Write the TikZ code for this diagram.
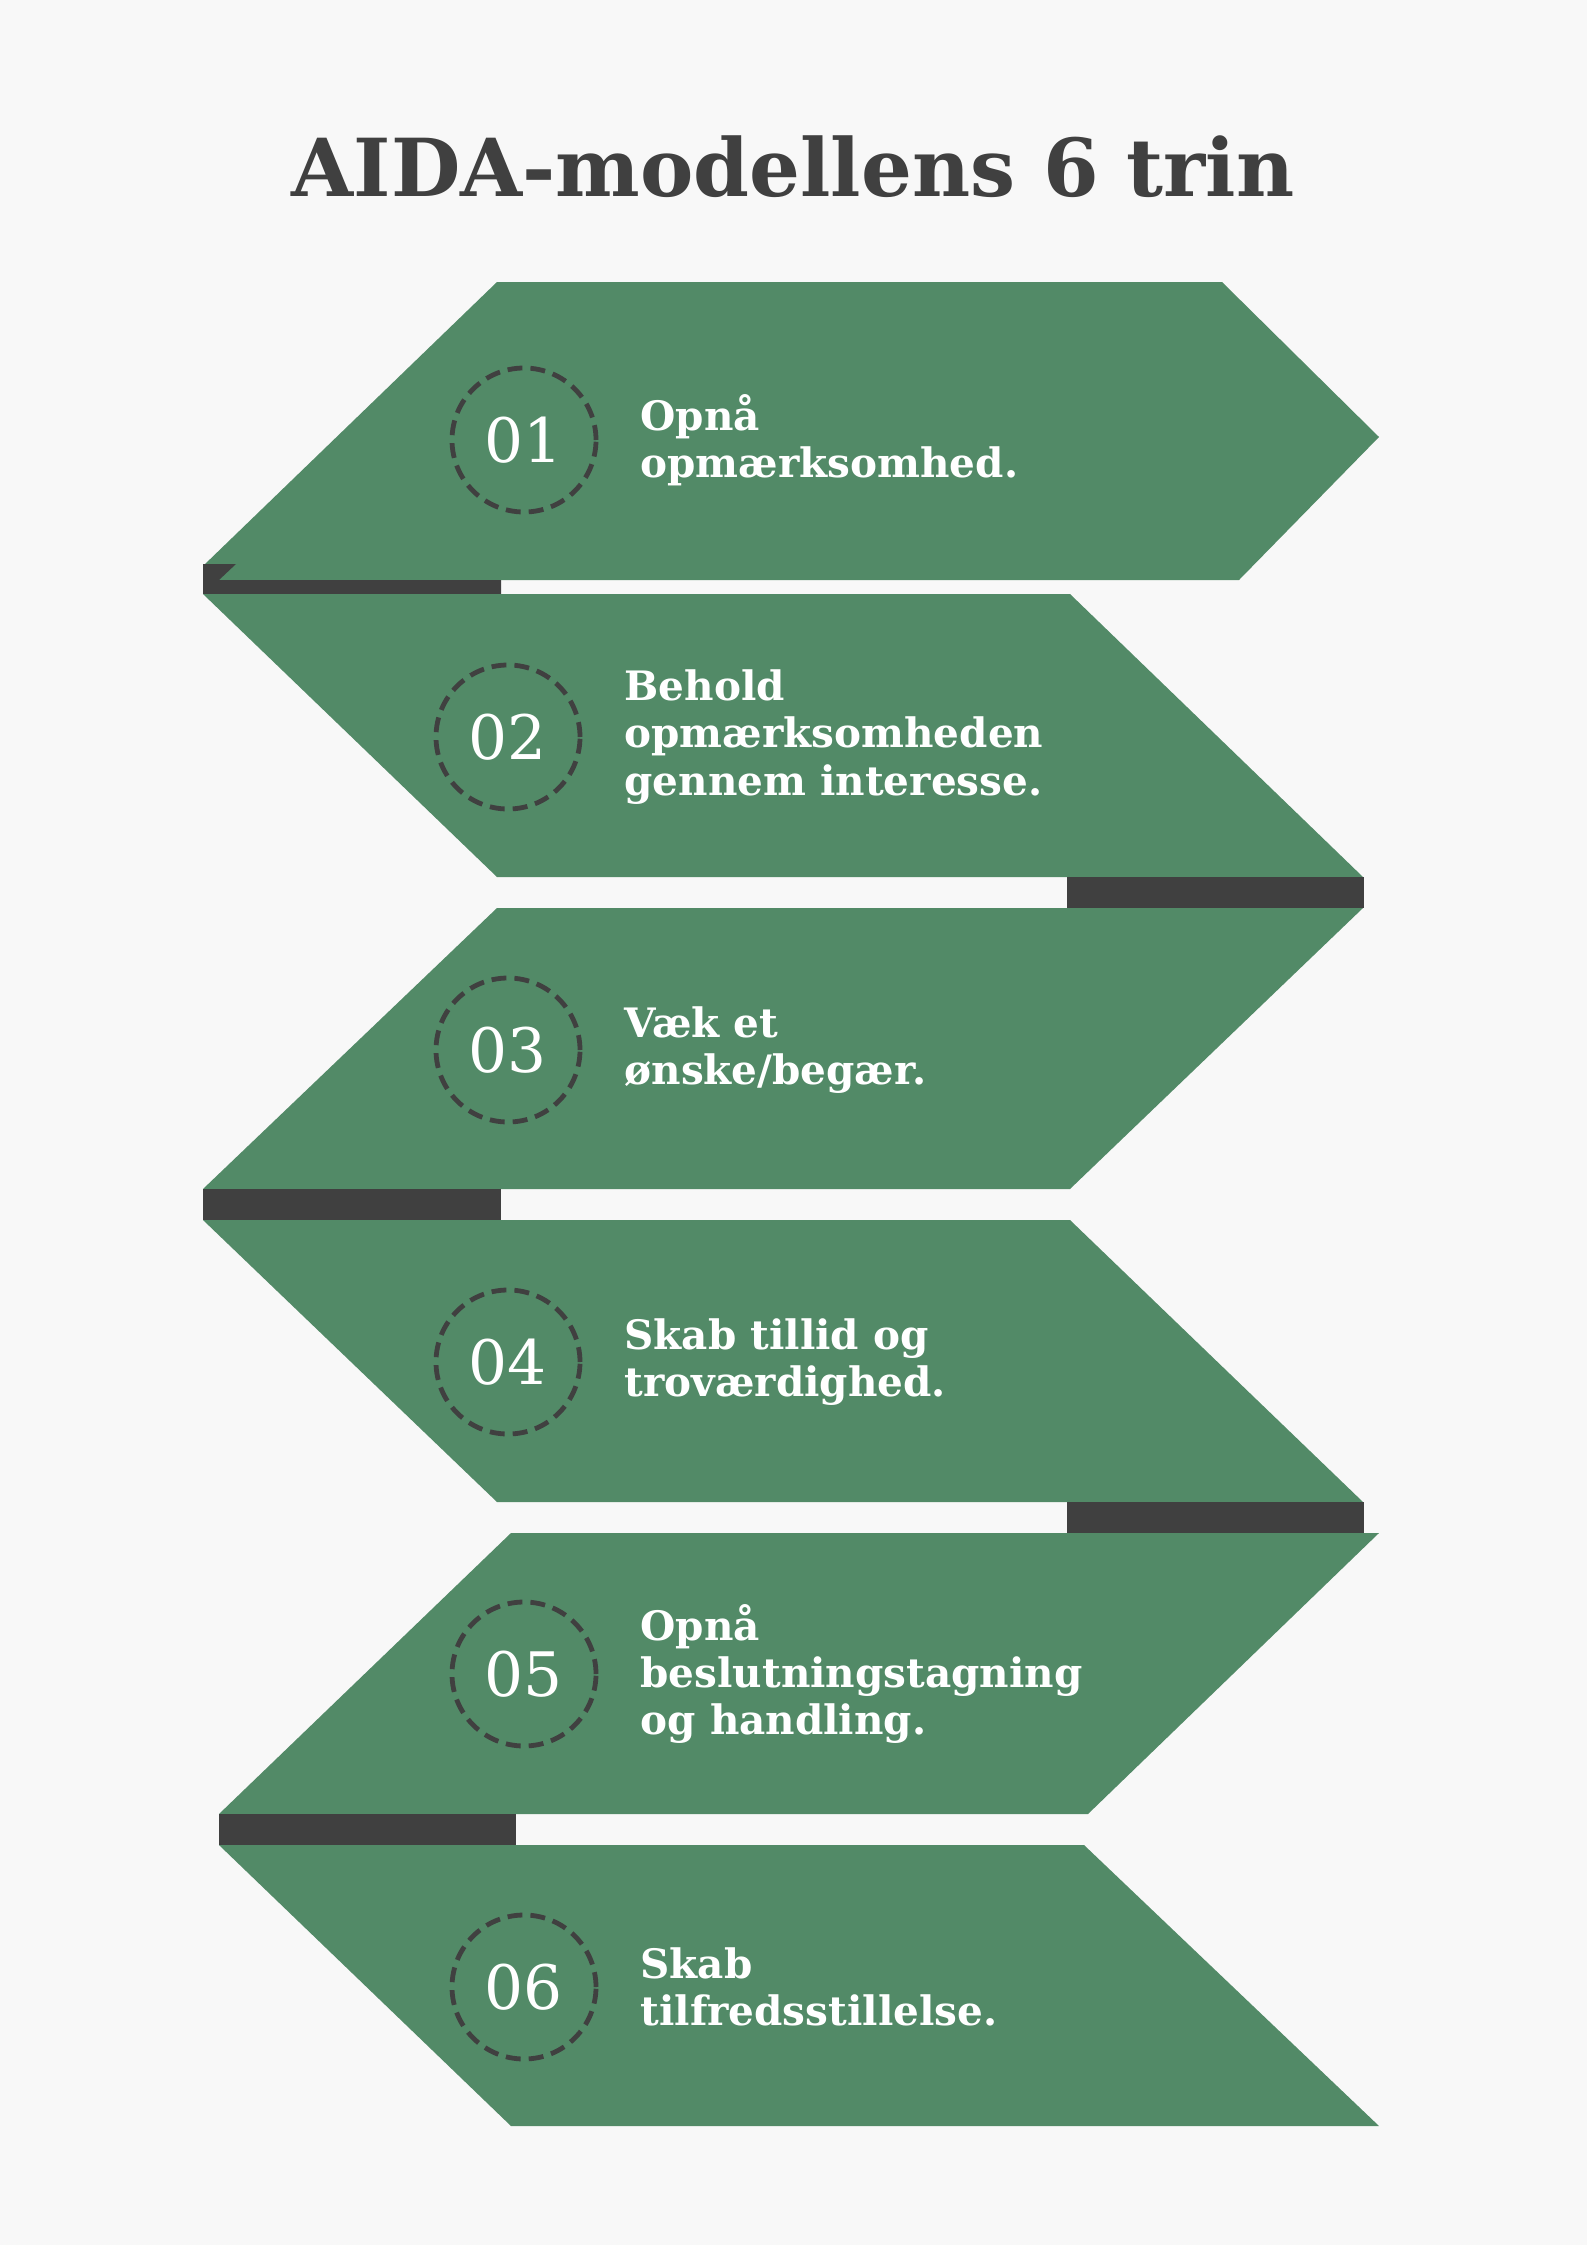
\documentclass[tikz,border=0pt]{standalone}
\usepackage{fontspec}
\setmainfont{DejaVu Serif}
\usepackage{xcolor}
\definecolor{aidagreen}{RGB}{82,138,103}
\definecolor{aidadark}{RGB}{64,64,64}
\definecolor{aidabg}{RGB}{248,248,248}

\begin{document}
\begin{tikzpicture}[x=0.375pt, y=-0.375pt,
  band/.style={fill=aidagreen},
  bar/.style={fill=aidadark},
  numring/.style={circle, draw=aidadark, dash pattern=on 5.6pt off 3pt, line width=1.8pt,
    minimum size=54pt, inner sep=0pt, text=white, font=\fontsize{23}{23}\selectfont},
  steptext/.style={anchor=west, align=left, inner sep=0pt, text=white,
    font=\bfseries\fontsize{15.2}{17.7}\selectfont}]

\fill[aidabg] (0,0) rectangle (1587,2245);

\node[anchor=base, text=aidadark, font=\bfseries\fontsize{30}{30}\selectfont] (title) at (793,196) {AIDA-modellens 6 trin};

% step 1
\fill[band] (497,282) -- (1222,282) -- (1379,437) -- (1239,580) -- (203,580) -- (203,566) -- cycle;
\fill[bar] (203,564) -- (236,564) -- (219,580) -- (501,580) -- (501,594) -- (203,594) -- cycle;
\node[numring] (n1) at (524,440) {01};
\node[steptext] (t1) at (640,440) {Opnå\\opmærksomhed.};

% step 2
\fill[band] (203,594) -- (1070,594) -- (1363,877) -- (497,877) -- cycle;
\fill[bar] (1067,877) rectangle (1364,908);
\node[numring] (n2) at (508,737) {02};
\node[steptext] (t2) at (624,737) {Behold\\opmærksomheden\\gennem interesse.};

% step 3
\fill[band] (497,908) -- (1363,908) -- (1070,1189) -- (203,1189) -- cycle;
\fill[bar] (203,1189) rectangle (501,1220);
\node[numring] (n3) at (508,1050) {03};
\node[steptext] (t3) at (624,1050) {Væk et\\ønske/begær.};

% step 4
\fill[band] (203,1220) -- (1070,1220) -- (1363,1502) -- (497,1502) -- cycle;
\fill[bar] (1067,1502) rectangle (1364,1533);
\node[numring] (n4) at (508,1362) {04};
\node[steptext] (t4) at (624,1362) {Skab tillid og\\troværdighed.};

% step 5
\fill[band] (511,1533) -- (1379,1533) -- (1088,1814) -- (219,1814) -- cycle;
\fill[bar] (219,1814) rectangle (516,1845);
\node[numring] (n5) at (524,1674) {05};
\node[steptext] (t5) at (640,1674) {Opnå\\beslutningstagning\\og handling.};

% step 6
\fill[band] (219,1845) -- (1084,1845) -- (1379,2126) -- (511,2126) -- cycle;
\node[numring] (n6) at (524,1987) {06};
\node[steptext] (t6) at (640,1987) {Skab\\tilfredsstillelse.};

\end{tikzpicture}
\end{document}
